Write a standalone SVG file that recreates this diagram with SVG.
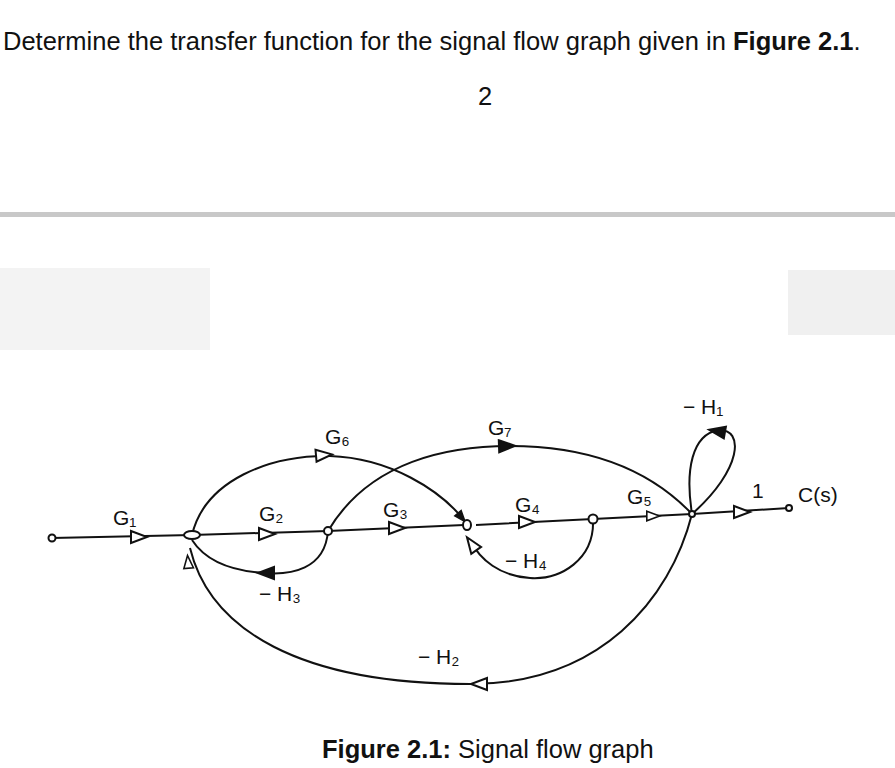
<svg xmlns="http://www.w3.org/2000/svg" xmlns:xlink="http://www.w3.org/1999/xlink" width="895" height="768" viewBox="0 0 895 768">
<style>
.e{fill:none;stroke:#111;stroke-width:2}
.n{fill:#fff;stroke:#111;stroke-width:2}
.a{fill:#fff;stroke:#111;stroke-width:2}
.af{fill:#111;stroke:#111;stroke-width:2}
.l{font-family:"Liberation Sans",Arial,sans-serif;font-size:21px;fill:#111}
.t{font-family:"Liberation Sans",Arial,sans-serif;font-size:25.5px;fill:#111}
</style>
<defs><path id="ar" d="M-9,-6 L7,0 L-9,6 Z"/></defs>
<rect width="895" height="768" fill="#fff"/>
<text class="t" x="3" y="50">Determine the transfer function for the signal flow graph given in <tspan font-weight="bold">Figure 2.1</tspan>.</text>
<text class="t" x="478" y="105" font-size="20">2</text>
<rect x="0" y="212" width="895" height="5" fill="#c8c8c8"/>
<rect x="0" y="268" width="210" height="82" fill="#f3f3f3"/>
<rect x="788" y="270" width="107" height="65" fill="#f0f0f0"/>
<g id="connectors">
<path class="e" d="M52,538 L192,535 L328,531 L464,525"/>
<path class="e" d="M476,525 L593,519 L692,514 L789,508"/>
<path class="e" d="M192,535 C205,480 270,455 330,456 C390,458 440,490 464,520"/>
<path class="e" d="M328,531 C370,460 450,446 510,446 C590,446 650,470 692,514"/>
<path class="e" d="M328,531 C325,570 290,575 265,573 C230,571 205,560 192,540"/>
<path class="e" d="M593,519 C595,560 560,580 530,578 C500,576 480,560 470,540"/>
<path class="e" d="M692,514 C670,600 600,684 470,684 C300,684 210,630 190,548"/>
<path class="e" d="M692,514 C685,470 692,435 718,430 C745,428 742,470 692,514"/>
<g class="a">
<use xlink:href="#ar" transform="translate(140,537)"/>
<use xlink:href="#ar" transform="translate(268,534)"/>
<use xlink:href="#ar" transform="translate(398,528)"/>
<use xlink:href="#ar" transform="translate(528,522)"/>
<use xlink:href="#ar" transform="translate(654,516) scale(0.8)"/>
<use xlink:href="#ar" transform="translate(743,512)"/>
<use xlink:href="#ar" transform="translate(325,455) rotate(-5)"/>
<use xlink:href="#ar" transform="translate(478,684) rotate(180)"/>
<use xlink:href="#ar" transform="translate(188,561) rotate(-95) scale(0.8)"/>
<use xlink:href="#ar" transform="translate(471,543) rotate(-125)"/>
</g>
<g class="af">
<use xlink:href="#ar" transform="translate(508,446) rotate(-2)"/>
<use xlink:href="#ar" transform="translate(265,573) rotate(180)"/>
<use xlink:href="#ar" transform="translate(716,431) rotate(190)"/>
<use xlink:href="#ar" transform="translate(462,518) rotate(50) scale(0.7)"/>
</g>
</g>
<g id="n0"><circle class="n" cx="52" cy="538" r="3.5"/></g>
<g id="n1"><ellipse class="n" cx="192" cy="535" rx="8" ry="4"/></g>
<g id="n2"><circle class="n" cx="328" cy="531" r="4"/></g>
<g id="n3"><ellipse class="n" cx="467" cy="525" rx="4" ry="5"/></g>
<g id="n4"><circle class="n" cx="593" cy="519" r="4.5"/></g>
<g id="n5"><circle class="n" cx="692" cy="514" r="3"/></g>
<g id="n6"><circle class="n" cx="789" cy="508" r="3"/></g>
<g id="labels">
<text class="l" x="113" y="525">G₁</text>
<text class="l" x="259" y="521">G₂</text>
<text class="l" x="383" y="517">G₃</text>
<text class="l" x="325" y="444">G₆</text>
<text class="l" x="488" y="435">G₇</text>
<text class="l" x="515" y="512">G₄</text>
<text class="l" x="627" y="504">G₅</text>
<text class="l" x="752" y="498">1</text>
<text class="l" x="798" y="502">C(s)</text>
<text class="l" x="683" y="414">− H₁</text>
<text class="l" x="259" y="601">− H₃</text>
<text class="l" x="505" y="568">− H₄</text>
<text class="l" x="418" y="664">− H₂</text>
</g>
<text class="t" x="322" y="758"><tspan font-weight="bold">Figure 2.1:</tspan> Signal flow graph</text>
</svg>
